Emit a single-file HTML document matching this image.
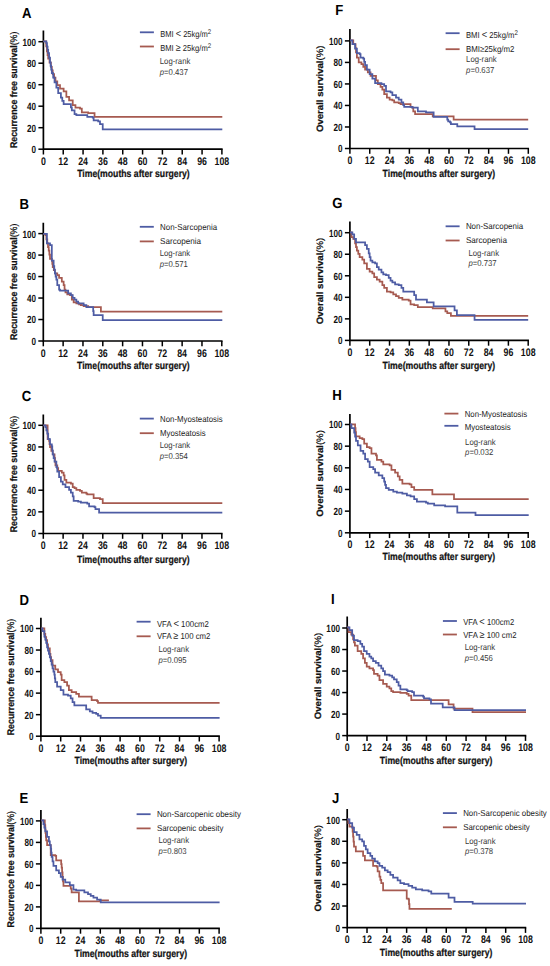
<!DOCTYPE html><html><head><meta charset="utf-8"><style>html,body{margin:0;padding:0;background:#fff;}svg{display:block;} .bt{stroke:#111;stroke-width:0.22px;}</style></head><body>
<svg width="550" height="966" viewBox="0 0 550 966" font-family="&quot;Liberation Sans&quot;, sans-serif" text-rendering="geometricPrecision">
<rect width="550" height="966" fill="#fff"/>
<path d="M43.4,30.5V149.2H222.65" fill="none" stroke="#000" stroke-width="1.7"/>
<path d="M38.4,149.2H43.4" stroke="#000" stroke-width="1.5"/>
<text transform="translate(36.1,153.1) scale(0.78,1)" text-anchor="end" font-size="10.4" font-weight="bold" fill="#111">0</text>
<path d="M38.4,127.7H43.4" stroke="#000" stroke-width="1.5"/>
<text transform="translate(36.1,131.6) scale(0.78,1)" text-anchor="end" font-size="10.4" font-weight="bold" fill="#111">20</text>
<path d="M38.4,106.2H43.4" stroke="#000" stroke-width="1.5"/>
<text transform="translate(36.1,110.1) scale(0.78,1)" text-anchor="end" font-size="10.4" font-weight="bold" fill="#111">40</text>
<path d="M38.4,84.7H43.4" stroke="#000" stroke-width="1.5"/>
<text transform="translate(36.1,88.6) scale(0.78,1)" text-anchor="end" font-size="10.4" font-weight="bold" fill="#111">60</text>
<path d="M38.4,63.2H43.4" stroke="#000" stroke-width="1.5"/>
<text transform="translate(36.1,67.1) scale(0.78,1)" text-anchor="end" font-size="10.4" font-weight="bold" fill="#111">80</text>
<path d="M38.4,41.7H43.4" stroke="#000" stroke-width="1.5"/>
<text transform="translate(36.1,45.6) scale(0.78,1)" text-anchor="end" font-size="10.4" font-weight="bold" fill="#111">100</text>
<path d="M43.4,149.2V154.5" stroke="#000" stroke-width="1.5"/>
<text transform="translate(43.4,164.85) scale(0.8,1)" text-anchor="middle" font-size="11.0" font-weight="bold" fill="#111">0</text>
<path d="M63.23,149.2V154.5" stroke="#000" stroke-width="1.5"/>
<text transform="translate(63.23,164.85) scale(0.8,1)" text-anchor="middle" font-size="11.0" font-weight="bold" fill="#111">12</text>
<path d="M83.07,149.2V154.5" stroke="#000" stroke-width="1.5"/>
<text transform="translate(83.07,164.85) scale(0.8,1)" text-anchor="middle" font-size="11.0" font-weight="bold" fill="#111">24</text>
<path d="M102.9,149.2V154.5" stroke="#000" stroke-width="1.5"/>
<text transform="translate(102.9,164.85) scale(0.8,1)" text-anchor="middle" font-size="11.0" font-weight="bold" fill="#111">36</text>
<path d="M122.73,149.2V154.5" stroke="#000" stroke-width="1.5"/>
<text transform="translate(122.73,164.85) scale(0.8,1)" text-anchor="middle" font-size="11.0" font-weight="bold" fill="#111">48</text>
<path d="M142.57,149.2V154.5" stroke="#000" stroke-width="1.5"/>
<text transform="translate(142.57,164.85) scale(0.8,1)" text-anchor="middle" font-size="11.0" font-weight="bold" fill="#111">60</text>
<path d="M162.4,149.2V154.5" stroke="#000" stroke-width="1.5"/>
<text transform="translate(162.4,164.85) scale(0.8,1)" text-anchor="middle" font-size="11.0" font-weight="bold" fill="#111">72</text>
<path d="M182.23,149.2V154.5" stroke="#000" stroke-width="1.5"/>
<text transform="translate(182.23,164.85) scale(0.8,1)" text-anchor="middle" font-size="11.0" font-weight="bold" fill="#111">84</text>
<path d="M202.07,149.2V154.5" stroke="#000" stroke-width="1.5"/>
<text transform="translate(202.07,164.85) scale(0.8,1)" text-anchor="middle" font-size="11.0" font-weight="bold" fill="#111">96</text>
<path d="M221.9,149.2V154.5" stroke="#000" stroke-width="1.5"/>
<text transform="translate(221.9,164.85) scale(0.8,1)" text-anchor="middle" font-size="11.0" font-weight="bold" fill="#111">108</text>
<text x="133.45" y="176.6" text-anchor="middle" font-size="10.4" font-weight="bold" fill="#111" class="bt" textLength="112.6" lengthAdjust="spacingAndGlyphs">Time(mouths after surgery)</text>
<text transform="translate(16.6,89.85) rotate(-90)" x="0" y="0" text-anchor="middle" font-size="9.7" font-weight="bold" fill="#111" class="bt" textLength="116.5" lengthAdjust="spacingAndGlyphs">Recurrence free survival<tspan font-weight="normal">(%)</tspan></text>
<text transform="translate(22,17.6) scale(0.9,1)" font-size="14.6" font-weight="bold" fill="#000">A</text>
<path d="M139.9,32.3H153.9" stroke="#4e5ca4" stroke-width="1.8"/>
<text class="lg0" x="160.2" y="36.9" font-size="8.6" fill="#1c1c1c" textLength="51" lengthAdjust="spacingAndGlyphs">BMI <tspan font-size="10.5">&lt;</tspan> 25kg/m<tspan font-size="6.9" dy="-2.9">2</tspan></text>
<path d="M139.9,46.5H153.9" stroke="#a65a50" stroke-width="1.8"/>
<text class="lg1" x="160.2" y="50.8" font-size="8.6" fill="#1c1c1c" textLength="51" lengthAdjust="spacingAndGlyphs">BMI <tspan font-size="10">&#8805;</tspan> 25kg/m<tspan font-size="6.9" dy="-2.9">2</tspan></text>
<text class="lr" transform="translate(159.8,64.2) scale(0.9,1)" font-size="8.6" fill="#383838">Log-rank</text>
<text class="pv" transform="translate(159.8,75.1) scale(0.9,1)" font-size="8.6" fill="#383838"><tspan font-style="italic">p</tspan>=0.437</text>
<path d="M43.27,41.36H45.45H46.18V46.36H46.91V51.36H47.55V55H48.18V58.64H49.55V62.73H50.91V66.82H51.82V70.45H52.73V74.09H54.09V77.73H55.45V81.36H57.27V85H60V88.64H63.64V91.36H66.36V96.82H69.09V100.45H72.73V105H75.45V107.73H80V108.64H81.82V112.27H88.18V113.18H94.55V115V116.82H140H222.3" fill="none" stroke="#a65a50" stroke-width="1.75" stroke-linejoin="miter" stroke-linecap="butt"/>
<path d="M43.27,41.36H46.36V43.18H46.97V46.52H47.58V49.85H48.18V53.18H49.09V57.73H50V62.27H50.61V65.91H51.21V69.55H51.82V73.18H53.18V77.73H54.55V82.27H56.36V87.73H58.18V93.18H60.91V97.73H62.27V100.91H63.64V104.09H70H70.91V107.27H71.82V110.45H74.55V114.09H76.36V115H86.36H87.27V116.82H92.73V117.73H93.64V120.45H98.18V121.36H100V124.09H102.73V129.36H140H222.3" fill="none" stroke="#4e5ca4" stroke-width="1.75" stroke-linejoin="miter" stroke-linecap="butt"/>
<path d="M43.3,222.7V341H222.55" fill="none" stroke="#000" stroke-width="1.7"/>
<path d="M38.3,341H43.3" stroke="#000" stroke-width="1.5"/>
<text transform="translate(36,344.9) scale(0.78,1)" text-anchor="end" font-size="10.4" font-weight="bold" fill="#111">0</text>
<path d="M38.3,319.52H43.3" stroke="#000" stroke-width="1.5"/>
<text transform="translate(36,323.42) scale(0.78,1)" text-anchor="end" font-size="10.4" font-weight="bold" fill="#111">20</text>
<path d="M38.3,298.04H43.3" stroke="#000" stroke-width="1.5"/>
<text transform="translate(36,301.94) scale(0.78,1)" text-anchor="end" font-size="10.4" font-weight="bold" fill="#111">40</text>
<path d="M38.3,276.56H43.3" stroke="#000" stroke-width="1.5"/>
<text transform="translate(36,280.46) scale(0.78,1)" text-anchor="end" font-size="10.4" font-weight="bold" fill="#111">60</text>
<path d="M38.3,255.08H43.3" stroke="#000" stroke-width="1.5"/>
<text transform="translate(36,258.98) scale(0.78,1)" text-anchor="end" font-size="10.4" font-weight="bold" fill="#111">80</text>
<path d="M38.3,233.6H43.3" stroke="#000" stroke-width="1.5"/>
<text transform="translate(36,237.5) scale(0.78,1)" text-anchor="end" font-size="10.4" font-weight="bold" fill="#111">100</text>
<path d="M43.3,341V346.3" stroke="#000" stroke-width="1.5"/>
<text transform="translate(43.3,356.65) scale(0.8,1)" text-anchor="middle" font-size="11.0" font-weight="bold" fill="#111">0</text>
<path d="M63.13,341V346.3" stroke="#000" stroke-width="1.5"/>
<text transform="translate(63.13,356.65) scale(0.8,1)" text-anchor="middle" font-size="11.0" font-weight="bold" fill="#111">12</text>
<path d="M82.97,341V346.3" stroke="#000" stroke-width="1.5"/>
<text transform="translate(82.97,356.65) scale(0.8,1)" text-anchor="middle" font-size="11.0" font-weight="bold" fill="#111">24</text>
<path d="M102.8,341V346.3" stroke="#000" stroke-width="1.5"/>
<text transform="translate(102.8,356.65) scale(0.8,1)" text-anchor="middle" font-size="11.0" font-weight="bold" fill="#111">36</text>
<path d="M122.63,341V346.3" stroke="#000" stroke-width="1.5"/>
<text transform="translate(122.63,356.65) scale(0.8,1)" text-anchor="middle" font-size="11.0" font-weight="bold" fill="#111">48</text>
<path d="M142.47,341V346.3" stroke="#000" stroke-width="1.5"/>
<text transform="translate(142.47,356.65) scale(0.8,1)" text-anchor="middle" font-size="11.0" font-weight="bold" fill="#111">60</text>
<path d="M162.3,341V346.3" stroke="#000" stroke-width="1.5"/>
<text transform="translate(162.3,356.65) scale(0.8,1)" text-anchor="middle" font-size="11.0" font-weight="bold" fill="#111">72</text>
<path d="M182.13,341V346.3" stroke="#000" stroke-width="1.5"/>
<text transform="translate(182.13,356.65) scale(0.8,1)" text-anchor="middle" font-size="11.0" font-weight="bold" fill="#111">84</text>
<path d="M201.97,341V346.3" stroke="#000" stroke-width="1.5"/>
<text transform="translate(201.97,356.65) scale(0.8,1)" text-anchor="middle" font-size="11.0" font-weight="bold" fill="#111">96</text>
<path d="M221.8,341V346.3" stroke="#000" stroke-width="1.5"/>
<text transform="translate(221.8,356.65) scale(0.8,1)" text-anchor="middle" font-size="11.0" font-weight="bold" fill="#111">108</text>
<text x="133.35" y="369.4" text-anchor="middle" font-size="10.4" font-weight="bold" fill="#111" class="bt" textLength="112.6" lengthAdjust="spacingAndGlyphs">Time(mouths after surgery)</text>
<text transform="translate(16.5,281.85) rotate(-90)" x="0" y="0" text-anchor="middle" font-size="9.7" font-weight="bold" fill="#111" class="bt" textLength="116.5" lengthAdjust="spacingAndGlyphs">Recurrence free survival<tspan font-weight="normal">(%)</tspan></text>
<text transform="translate(19.6,209) scale(0.9,1)" font-size="14.6" font-weight="bold" fill="#000">B</text>
<path d="M139.8,226.8H153.8" stroke="#4e5ca4" stroke-width="1.8"/>
<text class="lg0" x="160.1" y="229.7" font-size="8.6" fill="#1c1c1c" textLength="57" lengthAdjust="spacingAndGlyphs">Non-Sarcopenia</text>
<path d="M139.8,241.4H153.8" stroke="#a65a50" stroke-width="1.8"/>
<text class="lg1" x="160.1" y="244.2" font-size="8.6" fill="#1c1c1c" textLength="41" lengthAdjust="spacingAndGlyphs">Sarcopenia</text>
<text class="lr" transform="translate(159.7,256.2) scale(0.9,1)" font-size="8.6" fill="#383838">Log-rank</text>
<text class="pv" transform="translate(159.7,266.6) scale(0.9,1)" font-size="8.6" fill="#383838"><tspan font-style="italic">p</tspan>=0.571</text>
<path d="M43.27,233.91H45.45V235.18H46.36V239.27H47.27V243.36H48V247H48.73V250.64H49.36V254.73H50V258.82H51.82V260.64H52.27V263.82H52.73V267H53.82V270.18H54.91V273.36H57.27V275.18H59.09V277.91H61.82V281.55H63.64V285.18H64.55V289.73H65.45V292.45H67.27V294.27H70V295.18H71.82V299.73H73.64V302.45H76.36V303.36H79.09V304.27H80.91V305.18H83.64V306.09H88.18V307H99.09H100.91V311.55H140H222.3" fill="none" stroke="#a65a50" stroke-width="1.75" stroke-linejoin="miter" stroke-linecap="butt"/>
<path d="M43.27,233.91H46.91V243.36H49.09H50V245.18H51.82V246.09V260.64H53.64V266.09H54.27V269.73H54.91V273.36H55.64V276.55H56.36V279.73H57.27V285.18H59.09V289.73H60V290.64H67.27H68.18V293.36H70.91V295.18H72.73V297.91H74.55V299.73H76.36V301.55H78.18V303.36H83.64V305.18H86.36V307H92.73H93.18V311.09H93.64V315.18H102.73V316.09V320.09H140H222.3" fill="none" stroke="#4e5ca4" stroke-width="1.75" stroke-linejoin="miter" stroke-linecap="butt"/>
<path d="M43.3,414.5V533.5H222.55" fill="none" stroke="#000" stroke-width="1.7"/>
<path d="M38.3,533.5H43.3" stroke="#000" stroke-width="1.5"/>
<text transform="translate(36,537.4) scale(0.78,1)" text-anchor="end" font-size="10.4" font-weight="bold" fill="#111">0</text>
<path d="M38.3,511.86H43.3" stroke="#000" stroke-width="1.5"/>
<text transform="translate(36,515.76) scale(0.78,1)" text-anchor="end" font-size="10.4" font-weight="bold" fill="#111">20</text>
<path d="M38.3,490.22H43.3" stroke="#000" stroke-width="1.5"/>
<text transform="translate(36,494.12) scale(0.78,1)" text-anchor="end" font-size="10.4" font-weight="bold" fill="#111">40</text>
<path d="M38.3,468.58H43.3" stroke="#000" stroke-width="1.5"/>
<text transform="translate(36,472.48) scale(0.78,1)" text-anchor="end" font-size="10.4" font-weight="bold" fill="#111">60</text>
<path d="M38.3,446.94H43.3" stroke="#000" stroke-width="1.5"/>
<text transform="translate(36,450.84) scale(0.78,1)" text-anchor="end" font-size="10.4" font-weight="bold" fill="#111">80</text>
<path d="M38.3,425.3H43.3" stroke="#000" stroke-width="1.5"/>
<text transform="translate(36,429.2) scale(0.78,1)" text-anchor="end" font-size="10.4" font-weight="bold" fill="#111">100</text>
<path d="M43.3,533.5V538.8" stroke="#000" stroke-width="1.5"/>
<text transform="translate(43.3,549.15) scale(0.8,1)" text-anchor="middle" font-size="11.0" font-weight="bold" fill="#111">0</text>
<path d="M63.13,533.5V538.8" stroke="#000" stroke-width="1.5"/>
<text transform="translate(63.13,549.15) scale(0.8,1)" text-anchor="middle" font-size="11.0" font-weight="bold" fill="#111">12</text>
<path d="M82.97,533.5V538.8" stroke="#000" stroke-width="1.5"/>
<text transform="translate(82.97,549.15) scale(0.8,1)" text-anchor="middle" font-size="11.0" font-weight="bold" fill="#111">24</text>
<path d="M102.8,533.5V538.8" stroke="#000" stroke-width="1.5"/>
<text transform="translate(102.8,549.15) scale(0.8,1)" text-anchor="middle" font-size="11.0" font-weight="bold" fill="#111">36</text>
<path d="M122.63,533.5V538.8" stroke="#000" stroke-width="1.5"/>
<text transform="translate(122.63,549.15) scale(0.8,1)" text-anchor="middle" font-size="11.0" font-weight="bold" fill="#111">48</text>
<path d="M142.47,533.5V538.8" stroke="#000" stroke-width="1.5"/>
<text transform="translate(142.47,549.15) scale(0.8,1)" text-anchor="middle" font-size="11.0" font-weight="bold" fill="#111">60</text>
<path d="M162.3,533.5V538.8" stroke="#000" stroke-width="1.5"/>
<text transform="translate(162.3,549.15) scale(0.8,1)" text-anchor="middle" font-size="11.0" font-weight="bold" fill="#111">72</text>
<path d="M182.13,533.5V538.8" stroke="#000" stroke-width="1.5"/>
<text transform="translate(182.13,549.15) scale(0.8,1)" text-anchor="middle" font-size="11.0" font-weight="bold" fill="#111">84</text>
<path d="M201.97,533.5V538.8" stroke="#000" stroke-width="1.5"/>
<text transform="translate(201.97,549.15) scale(0.8,1)" text-anchor="middle" font-size="11.0" font-weight="bold" fill="#111">96</text>
<path d="M221.8,533.5V538.8" stroke="#000" stroke-width="1.5"/>
<text transform="translate(221.8,549.15) scale(0.8,1)" text-anchor="middle" font-size="11.0" font-weight="bold" fill="#111">108</text>
<text x="133.35" y="562.5" text-anchor="middle" font-size="10.4" font-weight="bold" fill="#111" class="bt" textLength="112.6" lengthAdjust="spacingAndGlyphs">Time(mouths after surgery)</text>
<text transform="translate(16.5,474) rotate(-90)" x="0" y="0" text-anchor="middle" font-size="9.7" font-weight="bold" fill="#111" class="bt" textLength="116.5" lengthAdjust="spacingAndGlyphs">Recurrence free survival<tspan font-weight="normal">(%)</tspan></text>
<text transform="translate(21.8,400.9) scale(0.9,1)" font-size="14.6" font-weight="bold" fill="#000">C</text>
<path d="M139.8,418.6H153.8" stroke="#4e5ca4" stroke-width="1.8"/>
<text class="lg0" x="160.1" y="421.7" font-size="8.6" fill="#1c1c1c" textLength="62.5" lengthAdjust="spacingAndGlyphs">Non-Myosteatosis</text>
<path d="M139.8,433.2H153.8" stroke="#a65a50" stroke-width="1.8"/>
<text class="lg1" x="160.1" y="436.2" font-size="8.6" fill="#1c1c1c" textLength="45.5" lengthAdjust="spacingAndGlyphs">Myosteatosis</text>
<text class="lr" transform="translate(159.7,447.9) scale(0.9,1)" font-size="8.6" fill="#383838">Log-rank</text>
<text class="pv" transform="translate(159.7,458.6) scale(0.9,1)" font-size="8.6" fill="#383838"><tspan font-style="italic">p</tspan>=0.354</text>
<path d="M43.27,425.36H46.36H47.64V430.82V439H49.09V440.82H49.55V444H50V447.18H51.36V450.82H52.73V454.45H54.55V458.09H55V461.73H55.45V465.36H57.27V468.09H58.18V470.82H61.82V472.64H63.64V475.36H64.55V479.91H66.36V482.64H70.91V483.55H72.73V487.18H74.55V488.09H76.36V489.91H80V490.82H81.82V492.64H86.36V493.55H87.27V494.45H92.73H93.64V498.09H100V499H102.73V503.18H140H222.3" fill="none" stroke="#a65a50" stroke-width="1.75" stroke-linejoin="miter" stroke-linecap="butt"/>
<path d="M43.27,425.36H45.45V427.18H46.36V430.36H47.27V433.55H48.18V439H50V444.45H51.82V446.27H52.27V450.36H52.73V454.45H53.64V458.09H54.55V461.73H56.36V467.18H57.27V471.73H59.09V477.18H60.91V481.73H62.73V484.45H65.45V487.18H69.09V489.91H70.91V492.64H72.73V496.27H73.64V500.82H78.18V501.73H80.91V502.64H87.27V503.55H89.09V506.27H94.55V507.18H95.45V509H99.09V512.64H140H222.3" fill="none" stroke="#4e5ca4" stroke-width="1.75" stroke-linejoin="miter" stroke-linecap="butt"/>
<path d="M40.9,617.8V736.2H219.85" fill="none" stroke="#000" stroke-width="1.7"/>
<path d="M35.9,736.2H40.9" stroke="#000" stroke-width="1.5"/>
<text transform="translate(33.6,740.1) scale(0.78,1)" text-anchor="end" font-size="10.4" font-weight="bold" fill="#111">0</text>
<path d="M35.9,714.66H40.9" stroke="#000" stroke-width="1.5"/>
<text transform="translate(33.6,718.56) scale(0.78,1)" text-anchor="end" font-size="10.4" font-weight="bold" fill="#111">20</text>
<path d="M35.9,693.12H40.9" stroke="#000" stroke-width="1.5"/>
<text transform="translate(33.6,697.02) scale(0.78,1)" text-anchor="end" font-size="10.4" font-weight="bold" fill="#111">40</text>
<path d="M35.9,671.58H40.9" stroke="#000" stroke-width="1.5"/>
<text transform="translate(33.6,675.48) scale(0.78,1)" text-anchor="end" font-size="10.4" font-weight="bold" fill="#111">60</text>
<path d="M35.9,650.04H40.9" stroke="#000" stroke-width="1.5"/>
<text transform="translate(33.6,653.94) scale(0.78,1)" text-anchor="end" font-size="10.4" font-weight="bold" fill="#111">80</text>
<path d="M35.9,628.5H40.9" stroke="#000" stroke-width="1.5"/>
<text transform="translate(33.6,632.4) scale(0.78,1)" text-anchor="end" font-size="10.4" font-weight="bold" fill="#111">100</text>
<path d="M40.9,736.2V741.5" stroke="#000" stroke-width="1.5"/>
<text transform="translate(40.9,751.85) scale(0.8,1)" text-anchor="middle" font-size="11.0" font-weight="bold" fill="#111">0</text>
<path d="M60.7,736.2V741.5" stroke="#000" stroke-width="1.5"/>
<text transform="translate(60.7,751.85) scale(0.8,1)" text-anchor="middle" font-size="11.0" font-weight="bold" fill="#111">12</text>
<path d="M80.5,736.2V741.5" stroke="#000" stroke-width="1.5"/>
<text transform="translate(80.5,751.85) scale(0.8,1)" text-anchor="middle" font-size="11.0" font-weight="bold" fill="#111">24</text>
<path d="M100.3,736.2V741.5" stroke="#000" stroke-width="1.5"/>
<text transform="translate(100.3,751.85) scale(0.8,1)" text-anchor="middle" font-size="11.0" font-weight="bold" fill="#111">36</text>
<path d="M120.1,736.2V741.5" stroke="#000" stroke-width="1.5"/>
<text transform="translate(120.1,751.85) scale(0.8,1)" text-anchor="middle" font-size="11.0" font-weight="bold" fill="#111">48</text>
<path d="M139.9,736.2V741.5" stroke="#000" stroke-width="1.5"/>
<text transform="translate(139.9,751.85) scale(0.8,1)" text-anchor="middle" font-size="11.0" font-weight="bold" fill="#111">60</text>
<path d="M159.7,736.2V741.5" stroke="#000" stroke-width="1.5"/>
<text transform="translate(159.7,751.85) scale(0.8,1)" text-anchor="middle" font-size="11.0" font-weight="bold" fill="#111">72</text>
<path d="M179.5,736.2V741.5" stroke="#000" stroke-width="1.5"/>
<text transform="translate(179.5,751.85) scale(0.8,1)" text-anchor="middle" font-size="11.0" font-weight="bold" fill="#111">84</text>
<path d="M199.3,736.2V741.5" stroke="#000" stroke-width="1.5"/>
<text transform="translate(199.3,751.85) scale(0.8,1)" text-anchor="middle" font-size="11.0" font-weight="bold" fill="#111">96</text>
<path d="M219.1,736.2V741.5" stroke="#000" stroke-width="1.5"/>
<text transform="translate(219.1,751.85) scale(0.8,1)" text-anchor="middle" font-size="11.0" font-weight="bold" fill="#111">108</text>
<text x="130.8" y="764.2" text-anchor="middle" font-size="10.4" font-weight="bold" fill="#111" class="bt" textLength="112.6" lengthAdjust="spacingAndGlyphs">Time(mouths after surgery)</text>
<text transform="translate(14.1,677) rotate(-90)" x="0" y="0" text-anchor="middle" font-size="9.7" font-weight="bold" fill="#111" class="bt" textLength="116.5" lengthAdjust="spacingAndGlyphs">Recurrence free survival<tspan font-weight="normal">(%)</tspan></text>
<text transform="translate(19.6,604.5) scale(0.9,1)" font-size="14.6" font-weight="bold" fill="#000">D</text>
<path d="M136.6,621.7H150.6" stroke="#4e5ca4" stroke-width="1.8"/>
<text class="lg0" x="156.9" y="626.8" font-size="8.6" fill="#1c1c1c" textLength="52" lengthAdjust="spacingAndGlyphs">VFA <tspan font-size="10.5">&lt;</tspan> 100cm2</text>
<path d="M136.6,636.3H150.6" stroke="#a65a50" stroke-width="1.8"/>
<text class="lg1" x="156.9" y="639.1" font-size="8.6" fill="#1c1c1c" textLength="53.5" lengthAdjust="spacingAndGlyphs">VFA <tspan font-size="10">&#8805;</tspan> 100 cm2</text>
<text class="lr" transform="translate(158.5,652.2) scale(0.9,1)" font-size="8.6" fill="#383838">Log-rank</text>
<text class="pv" transform="translate(158.5,663.1) scale(0.9,1)" font-size="8.6" fill="#383838"><tspan font-style="italic">p</tspan>=0.095</text>
<path d="M41.27,628.36H44.36V633.82H45.27V637H46.18V640.18H47.09V644.27H48V648.36H49.82V653.82H50.45V657H51.09V660.18H52.55V665.64H55.27V669.27H58V672H60.73V674.73H61.64V680.18H64.36V682H67.09V685.64H68.91V690.18H71.64V692H76.18V693.82H78.91V696.55H89.82H91.64V700.18H97.09V701.09H98V702.91H138H219.6" fill="none" stroke="#a65a50" stroke-width="1.75" stroke-linejoin="miter" stroke-linecap="butt"/>
<path d="M41.27,628.36H42.55V631.09H44.36V636.55H45.27V639.73H46.18V642.91H47.09V647.45H48V650.64H48.91V653.82H49.82V657.45H50.73V661.09H51.64V664.73H52.55V668.36H53.45V671.55H54.36V674.73H54.82V678.36H55.27V682H57.09V686.55H60.73V690.18H63.45V694.73H68V695.64H70.73V698.36H72.55V702H74.36V705.27H83.45H86.18V709.27H89.82V711.45H92.55V712.91H96.18V713.82H98V715.64H100.73V717.82H138H219.6" fill="none" stroke="#4e5ca4" stroke-width="1.75" stroke-linejoin="miter" stroke-linecap="butt"/>
<path d="M40.9,810V928.4H219.85" fill="none" stroke="#000" stroke-width="1.7"/>
<path d="M35.9,928.4H40.9" stroke="#000" stroke-width="1.5"/>
<text transform="translate(33.6,932.3) scale(0.78,1)" text-anchor="end" font-size="10.4" font-weight="bold" fill="#111">0</text>
<path d="M35.9,906.9H40.9" stroke="#000" stroke-width="1.5"/>
<text transform="translate(33.6,910.8) scale(0.78,1)" text-anchor="end" font-size="10.4" font-weight="bold" fill="#111">20</text>
<path d="M35.9,885.4H40.9" stroke="#000" stroke-width="1.5"/>
<text transform="translate(33.6,889.3) scale(0.78,1)" text-anchor="end" font-size="10.4" font-weight="bold" fill="#111">40</text>
<path d="M35.9,863.9H40.9" stroke="#000" stroke-width="1.5"/>
<text transform="translate(33.6,867.8) scale(0.78,1)" text-anchor="end" font-size="10.4" font-weight="bold" fill="#111">60</text>
<path d="M35.9,842.4H40.9" stroke="#000" stroke-width="1.5"/>
<text transform="translate(33.6,846.3) scale(0.78,1)" text-anchor="end" font-size="10.4" font-weight="bold" fill="#111">80</text>
<path d="M35.9,820.9H40.9" stroke="#000" stroke-width="1.5"/>
<text transform="translate(33.6,824.8) scale(0.78,1)" text-anchor="end" font-size="10.4" font-weight="bold" fill="#111">100</text>
<path d="M40.9,928.4V933.7" stroke="#000" stroke-width="1.5"/>
<text transform="translate(40.9,944.05) scale(0.8,1)" text-anchor="middle" font-size="11.0" font-weight="bold" fill="#111">0</text>
<path d="M60.7,928.4V933.7" stroke="#000" stroke-width="1.5"/>
<text transform="translate(60.7,944.05) scale(0.8,1)" text-anchor="middle" font-size="11.0" font-weight="bold" fill="#111">12</text>
<path d="M80.5,928.4V933.7" stroke="#000" stroke-width="1.5"/>
<text transform="translate(80.5,944.05) scale(0.8,1)" text-anchor="middle" font-size="11.0" font-weight="bold" fill="#111">24</text>
<path d="M100.3,928.4V933.7" stroke="#000" stroke-width="1.5"/>
<text transform="translate(100.3,944.05) scale(0.8,1)" text-anchor="middle" font-size="11.0" font-weight="bold" fill="#111">36</text>
<path d="M120.1,928.4V933.7" stroke="#000" stroke-width="1.5"/>
<text transform="translate(120.1,944.05) scale(0.8,1)" text-anchor="middle" font-size="11.0" font-weight="bold" fill="#111">48</text>
<path d="M139.9,928.4V933.7" stroke="#000" stroke-width="1.5"/>
<text transform="translate(139.9,944.05) scale(0.8,1)" text-anchor="middle" font-size="11.0" font-weight="bold" fill="#111">60</text>
<path d="M159.7,928.4V933.7" stroke="#000" stroke-width="1.5"/>
<text transform="translate(159.7,944.05) scale(0.8,1)" text-anchor="middle" font-size="11.0" font-weight="bold" fill="#111">72</text>
<path d="M179.5,928.4V933.7" stroke="#000" stroke-width="1.5"/>
<text transform="translate(179.5,944.05) scale(0.8,1)" text-anchor="middle" font-size="11.0" font-weight="bold" fill="#111">84</text>
<path d="M199.3,928.4V933.7" stroke="#000" stroke-width="1.5"/>
<text transform="translate(199.3,944.05) scale(0.8,1)" text-anchor="middle" font-size="11.0" font-weight="bold" fill="#111">96</text>
<path d="M219.1,928.4V933.7" stroke="#000" stroke-width="1.5"/>
<text transform="translate(219.1,944.05) scale(0.8,1)" text-anchor="middle" font-size="11.0" font-weight="bold" fill="#111">108</text>
<text x="130.8" y="957.3" text-anchor="middle" font-size="10.4" font-weight="bold" fill="#111" class="bt" textLength="112.6" lengthAdjust="spacingAndGlyphs">Time(mouths after surgery)</text>
<text transform="translate(14.1,869.2) rotate(-90)" x="0" y="0" text-anchor="middle" font-size="9.7" font-weight="bold" fill="#111" class="bt" textLength="116.5" lengthAdjust="spacingAndGlyphs">Recurrence free survival<tspan font-weight="normal">(%)</tspan></text>
<text transform="translate(19.6,802.7) scale(0.9,1)" font-size="14.6" font-weight="bold" fill="#000">E</text>
<path d="M136.6,814.2H150.6" stroke="#4e5ca4" stroke-width="1.8"/>
<text class="lg0" x="156.9" y="816.7" font-size="8.6" fill="#1c1c1c" textLength="84" lengthAdjust="spacingAndGlyphs">Non-Sarcopenic obesity</text>
<path d="M136.6,828.4H150.6" stroke="#a65a50" stroke-width="1.8"/>
<text class="lg1" x="156.9" y="831.2" font-size="8.6" fill="#1c1c1c" textLength="66.5" lengthAdjust="spacingAndGlyphs">Sarcopenic obesity</text>
<text class="lr" transform="translate(158.5,842.9) scale(0.9,1)" font-size="8.6" fill="#383838">Log-rank</text>
<text class="pv" transform="translate(158.5,854.4) scale(0.9,1)" font-size="8.6" fill="#383838"><tspan font-style="italic">p</tspan>=0.803</text>
<path d="M41.27,820.45H44.36H44.82V825H45.27V829.55H45.58V833.18H45.88V836.82H46.18V840.45H47.09V845H49.82H50.73V850.45V855H55.27V855.91H56.18V860.45H60.73H61.18V864.09H61.64V867.73H62.09V872.27H62.55V876.82H63V881.36H63.45V885.91H68H70.73V888.64H71.64V892.27H78.91V901.36H98H99.82V900.45H108.91" fill="none" stroke="#a65a50" stroke-width="1.75" stroke-linejoin="miter" stroke-linecap="butt"/>
<path d="M41.27,820.45H43.45V824.09H44.36V827.73H45.27V831.36H47.09V836.82H48.91V841.36H49.82V845H50.73V848.64H51.18V852.73H51.64V856.82H52.55V861.36H53.45V865.91H56.18V870.45H58.91V873.18H60.73V876.82H62.55V879.55H65.27V882.27H69.82V885H73.45V889.55H76.18V890.45H82.55H84.36V892.27H88V894.09H90.73V895.91H93.45V897.73H97.09V899.55H100.73V902.27H138H219.6" fill="none" stroke="#4e5ca4" stroke-width="1.75" stroke-linejoin="miter" stroke-linecap="butt"/>
<path d="M349.9,29.1V148.5H529.05" fill="none" stroke="#000" stroke-width="1.7"/>
<path d="M344.9,148.5H349.9" stroke="#000" stroke-width="1.5"/>
<text transform="translate(342.6,152.4) scale(0.78,1)" text-anchor="end" font-size="10.4" font-weight="bold" fill="#111">0</text>
<path d="M344.9,126.98H349.9" stroke="#000" stroke-width="1.5"/>
<text transform="translate(342.6,130.88) scale(0.78,1)" text-anchor="end" font-size="10.4" font-weight="bold" fill="#111">20</text>
<path d="M344.9,105.46H349.9" stroke="#000" stroke-width="1.5"/>
<text transform="translate(342.6,109.36) scale(0.78,1)" text-anchor="end" font-size="10.4" font-weight="bold" fill="#111">40</text>
<path d="M344.9,83.94H349.9" stroke="#000" stroke-width="1.5"/>
<text transform="translate(342.6,87.84) scale(0.78,1)" text-anchor="end" font-size="10.4" font-weight="bold" fill="#111">60</text>
<path d="M344.9,62.42H349.9" stroke="#000" stroke-width="1.5"/>
<text transform="translate(342.6,66.32) scale(0.78,1)" text-anchor="end" font-size="10.4" font-weight="bold" fill="#111">80</text>
<path d="M344.9,40.9H349.9" stroke="#000" stroke-width="1.5"/>
<text transform="translate(342.6,44.8) scale(0.78,1)" text-anchor="end" font-size="10.4" font-weight="bold" fill="#111">100</text>
<path d="M349.9,148.5V153.8" stroke="#000" stroke-width="1.5"/>
<text transform="translate(349.9,164.15) scale(0.8,1)" text-anchor="middle" font-size="11.0" font-weight="bold" fill="#111">0</text>
<path d="M369.72,148.5V153.8" stroke="#000" stroke-width="1.5"/>
<text transform="translate(369.72,164.15) scale(0.8,1)" text-anchor="middle" font-size="11.0" font-weight="bold" fill="#111">12</text>
<path d="M389.54,148.5V153.8" stroke="#000" stroke-width="1.5"/>
<text transform="translate(389.54,164.15) scale(0.8,1)" text-anchor="middle" font-size="11.0" font-weight="bold" fill="#111">24</text>
<path d="M409.37,148.5V153.8" stroke="#000" stroke-width="1.5"/>
<text transform="translate(409.37,164.15) scale(0.8,1)" text-anchor="middle" font-size="11.0" font-weight="bold" fill="#111">36</text>
<path d="M429.19,148.5V153.8" stroke="#000" stroke-width="1.5"/>
<text transform="translate(429.19,164.15) scale(0.8,1)" text-anchor="middle" font-size="11.0" font-weight="bold" fill="#111">48</text>
<path d="M449.01,148.5V153.8" stroke="#000" stroke-width="1.5"/>
<text transform="translate(449.01,164.15) scale(0.8,1)" text-anchor="middle" font-size="11.0" font-weight="bold" fill="#111">60</text>
<path d="M468.83,148.5V153.8" stroke="#000" stroke-width="1.5"/>
<text transform="translate(468.83,164.15) scale(0.8,1)" text-anchor="middle" font-size="11.0" font-weight="bold" fill="#111">72</text>
<path d="M488.66,148.5V153.8" stroke="#000" stroke-width="1.5"/>
<text transform="translate(488.66,164.15) scale(0.8,1)" text-anchor="middle" font-size="11.0" font-weight="bold" fill="#111">84</text>
<path d="M508.48,148.5V153.8" stroke="#000" stroke-width="1.5"/>
<text transform="translate(508.48,164.15) scale(0.8,1)" text-anchor="middle" font-size="11.0" font-weight="bold" fill="#111">96</text>
<path d="M528.3,148.5V153.8" stroke="#000" stroke-width="1.5"/>
<text transform="translate(528.3,164.15) scale(0.8,1)" text-anchor="middle" font-size="11.0" font-weight="bold" fill="#111">108</text>
<text x="438.9" y="176.7" text-anchor="middle" font-size="10.4" font-weight="bold" fill="#111" class="bt" textLength="112.6" lengthAdjust="spacingAndGlyphs">Time(mouths after surgery)</text>
<text transform="translate(323.3,88.8) rotate(-90)" x="0" y="0" text-anchor="middle" font-size="9.2" font-weight="bold" fill="#111" class="bt" textLength="86.5" lengthAdjust="spacingAndGlyphs">Overall survival<tspan font-weight="normal">(%)</tspan></text>
<text transform="translate(335.3,14.5) scale(0.9,1)" font-size="14.6" font-weight="bold" fill="#000">F</text>
<path d="M445.6,33.2H459.6" stroke="#4e5ca4" stroke-width="1.8"/>
<text class="lg0" x="465.9" y="37.7" font-size="8.6" fill="#1c1c1c" textLength="52" lengthAdjust="spacingAndGlyphs">BMI <tspan font-size="10.5">&lt;</tspan> 25kg/m<tspan font-size="6.9" dy="-2.9">2</tspan></text>
<path d="M445.6,49.2H459.6" stroke="#a65a50" stroke-width="1.8"/>
<text class="lg1" x="465.9" y="52.2" font-size="8.6" fill="#1c1c1c" textLength="48.5" lengthAdjust="spacingAndGlyphs">BMI&#8805;25kg/m2</text>
<text class="lr" transform="translate(466.1,62) scale(0.9,1)" font-size="8.6" fill="#383838">Log-rank</text>
<text class="pv" transform="translate(466.1,72.9) scale(0.9,1)" font-size="8.6" fill="#383838"><tspan font-style="italic">p</tspan>=0.637</text>
<path d="M350,40.45H352.36H353.27V44.09H355.09H355.55V48.18H356V52.27H356.91V57.73H358.73V62.27H361.45V64.09H363.27V66.82H365.09V69.55H367.82V72.27H370.55V75.91H374.18H376V80.45H377.82V84.09H380.55V86.82H382.36V89.55H384.18V94.09H386.91V97.73H389.64V99.55H392.36V100.45H394.18V102.27H398.73V103.18H400.55V104.09H409.64H410.55V106.82H412.36V107.73H413.27V111.36H415.09V114.09H424.18H432.73V116.45H446.36H453.64V119.55H528.18" fill="none" stroke="#a65a50" stroke-width="1.75" stroke-linejoin="miter" stroke-linecap="butt"/>
<path d="M350,40.45H352.36V44.09H355.09V48.64H356.91V53.18H359.64V54.09H360.55V57.73H363.27V58.64H364.18V61.82H365.09V65H366.91V69.55H369.64V74.09H372.36V78.64H375.09V83.18H377.82H381.45V84.09H384.18V85.91H386V91.36H390.55V92.27H392.36V95H396V97.73H398.73V99.55H401.45V102.27H403.27V105H404.18V106.82H411.45H412.36V107.73H416.91H417.82V111.36H426V112.27H433.64V116.82H445.45H447.27V119.55H448.18V121.36H450V122.27H450.91V124.09H457.27V125V126.27H474.55V129H528.18" fill="none" stroke="#4e5ca4" stroke-width="1.75" stroke-linejoin="miter" stroke-linecap="butt"/>
<path d="M349.9,221.5V340.4H528.95" fill="none" stroke="#000" stroke-width="1.7"/>
<path d="M344.9,340.4H349.9" stroke="#000" stroke-width="1.5"/>
<text transform="translate(342.6,344.3) scale(0.78,1)" text-anchor="end" font-size="10.4" font-weight="bold" fill="#111">0</text>
<path d="M344.9,318.86H349.9" stroke="#000" stroke-width="1.5"/>
<text transform="translate(342.6,322.76) scale(0.78,1)" text-anchor="end" font-size="10.4" font-weight="bold" fill="#111">20</text>
<path d="M344.9,297.32H349.9" stroke="#000" stroke-width="1.5"/>
<text transform="translate(342.6,301.22) scale(0.78,1)" text-anchor="end" font-size="10.4" font-weight="bold" fill="#111">40</text>
<path d="M344.9,275.78H349.9" stroke="#000" stroke-width="1.5"/>
<text transform="translate(342.6,279.68) scale(0.78,1)" text-anchor="end" font-size="10.4" font-weight="bold" fill="#111">60</text>
<path d="M344.9,254.24H349.9" stroke="#000" stroke-width="1.5"/>
<text transform="translate(342.6,258.14) scale(0.78,1)" text-anchor="end" font-size="10.4" font-weight="bold" fill="#111">80</text>
<path d="M344.9,232.7H349.9" stroke="#000" stroke-width="1.5"/>
<text transform="translate(342.6,236.6) scale(0.78,1)" text-anchor="end" font-size="10.4" font-weight="bold" fill="#111">100</text>
<path d="M349.9,340.4V345.7" stroke="#000" stroke-width="1.5"/>
<text transform="translate(349.9,356.05) scale(0.8,1)" text-anchor="middle" font-size="11.0" font-weight="bold" fill="#111">0</text>
<path d="M369.71,340.4V345.7" stroke="#000" stroke-width="1.5"/>
<text transform="translate(369.71,356.05) scale(0.8,1)" text-anchor="middle" font-size="11.0" font-weight="bold" fill="#111">12</text>
<path d="M389.52,340.4V345.7" stroke="#000" stroke-width="1.5"/>
<text transform="translate(389.52,356.05) scale(0.8,1)" text-anchor="middle" font-size="11.0" font-weight="bold" fill="#111">24</text>
<path d="M409.33,340.4V345.7" stroke="#000" stroke-width="1.5"/>
<text transform="translate(409.33,356.05) scale(0.8,1)" text-anchor="middle" font-size="11.0" font-weight="bold" fill="#111">36</text>
<path d="M429.14,340.4V345.7" stroke="#000" stroke-width="1.5"/>
<text transform="translate(429.14,356.05) scale(0.8,1)" text-anchor="middle" font-size="11.0" font-weight="bold" fill="#111">48</text>
<path d="M448.96,340.4V345.7" stroke="#000" stroke-width="1.5"/>
<text transform="translate(448.96,356.05) scale(0.8,1)" text-anchor="middle" font-size="11.0" font-weight="bold" fill="#111">60</text>
<path d="M468.77,340.4V345.7" stroke="#000" stroke-width="1.5"/>
<text transform="translate(468.77,356.05) scale(0.8,1)" text-anchor="middle" font-size="11.0" font-weight="bold" fill="#111">72</text>
<path d="M488.58,340.4V345.7" stroke="#000" stroke-width="1.5"/>
<text transform="translate(488.58,356.05) scale(0.8,1)" text-anchor="middle" font-size="11.0" font-weight="bold" fill="#111">84</text>
<path d="M508.39,340.4V345.7" stroke="#000" stroke-width="1.5"/>
<text transform="translate(508.39,356.05) scale(0.8,1)" text-anchor="middle" font-size="11.0" font-weight="bold" fill="#111">96</text>
<path d="M528.2,340.4V345.7" stroke="#000" stroke-width="1.5"/>
<text transform="translate(528.2,356.05) scale(0.8,1)" text-anchor="middle" font-size="11.0" font-weight="bold" fill="#111">108</text>
<text x="438.85" y="368.6" text-anchor="middle" font-size="10.4" font-weight="bold" fill="#111" class="bt" textLength="112.6" lengthAdjust="spacingAndGlyphs">Time(mouths after surgery)</text>
<text transform="translate(323.3,280.95) rotate(-90)" x="0" y="0" text-anchor="middle" font-size="9.2" font-weight="bold" fill="#111" class="bt" textLength="86.5" lengthAdjust="spacingAndGlyphs">Overall survival<tspan font-weight="normal">(%)</tspan></text>
<text transform="translate(332.2,207.9) scale(0.9,1)" font-size="14.6" font-weight="bold" fill="#000">G</text>
<path d="M445.6,226.3H459.6" stroke="#4e5ca4" stroke-width="1.8"/>
<text class="lg0" x="465.9" y="229.2" font-size="8.6" fill="#1c1c1c" textLength="57.2" lengthAdjust="spacingAndGlyphs">Non-Sarcopenia</text>
<path d="M445.6,240.5H459.6" stroke="#a65a50" stroke-width="1.8"/>
<text class="lg1" x="465.9" y="243.4" font-size="8.6" fill="#1c1c1c" textLength="41" lengthAdjust="spacingAndGlyphs">Sarcopenia</text>
<text class="lr" transform="translate(468.5,255.6) scale(0.9,1)" font-size="8.6" fill="#383838">Log-rank</text>
<text class="pv" transform="translate(468.5,266.3) scale(0.9,1)" font-size="8.6" fill="#383838"><tspan font-style="italic">p</tspan>=0.737</text>
<path d="M350,232.45H351.45V237H353.27V238.82H355.09V243.36H356V247H356.91V250.64H358.27V253.82H359.64V257H362.36V259.73H364.18V263.36H366.91V268.82H369.64V271.55H372.36V273.36H374.18V277H376.91V279.73H379.64V281.55H382.36V285.18H384.18V287.91H386.91V291.55H390.55V292.45H393.27V294.27H396V296.09H398.73V297.91H402.36V299.73H408.73V300.64H410.55V304.27H414.18V305.18H417.82V307H426H432.73V308.27H444.55H445.45V311.36H447.27V313.18H450H450.91V315.91H528.18" fill="none" stroke="#a65a50" stroke-width="1.75" stroke-linejoin="miter" stroke-linecap="butt"/>
<path d="M350,232.45H352.36V234.27H354.18V238.82H356V242.45H363.27H365.09V245.18H366.91V248.82H368.73V253.36H369.64V257H370.55V260.64H372.36V262.45H375.09V263.36H376.91V267H378.73V269.73H381.45V272.45H383.27V274.27H386V275.18H388.73V277.91H390.55V280.64H392.36V282.45H395.09V284.27H398.73V285.18H401.45V287.91H403.27V291.55H411.45H414.18V295.18H416V299.73H425.09H426.91V302.45H433.64V306.45H453.64H454.55V310.45H456.91V315H474.55V319.91H528.18" fill="none" stroke="#4e5ca4" stroke-width="1.75" stroke-linejoin="miter" stroke-linecap="butt"/>
<path d="M349.9,414V532.8H528.95" fill="none" stroke="#000" stroke-width="1.7"/>
<path d="M344.9,532.8H349.9" stroke="#000" stroke-width="1.5"/>
<text transform="translate(342.6,536.7) scale(0.78,1)" text-anchor="end" font-size="10.4" font-weight="bold" fill="#111">0</text>
<path d="M344.9,511.14H349.9" stroke="#000" stroke-width="1.5"/>
<text transform="translate(342.6,515.04) scale(0.78,1)" text-anchor="end" font-size="10.4" font-weight="bold" fill="#111">20</text>
<path d="M344.9,489.48H349.9" stroke="#000" stroke-width="1.5"/>
<text transform="translate(342.6,493.38) scale(0.78,1)" text-anchor="end" font-size="10.4" font-weight="bold" fill="#111">40</text>
<path d="M344.9,467.82H349.9" stroke="#000" stroke-width="1.5"/>
<text transform="translate(342.6,471.72) scale(0.78,1)" text-anchor="end" font-size="10.4" font-weight="bold" fill="#111">60</text>
<path d="M344.9,446.16H349.9" stroke="#000" stroke-width="1.5"/>
<text transform="translate(342.6,450.06) scale(0.78,1)" text-anchor="end" font-size="10.4" font-weight="bold" fill="#111">80</text>
<path d="M344.9,424.5H349.9" stroke="#000" stroke-width="1.5"/>
<text transform="translate(342.6,428.4) scale(0.78,1)" text-anchor="end" font-size="10.4" font-weight="bold" fill="#111">100</text>
<path d="M349.9,532.8V538.1" stroke="#000" stroke-width="1.5"/>
<text transform="translate(349.9,548.45) scale(0.8,1)" text-anchor="middle" font-size="11.0" font-weight="bold" fill="#111">0</text>
<path d="M369.71,532.8V538.1" stroke="#000" stroke-width="1.5"/>
<text transform="translate(369.71,548.45) scale(0.8,1)" text-anchor="middle" font-size="11.0" font-weight="bold" fill="#111">12</text>
<path d="M389.52,532.8V538.1" stroke="#000" stroke-width="1.5"/>
<text transform="translate(389.52,548.45) scale(0.8,1)" text-anchor="middle" font-size="11.0" font-weight="bold" fill="#111">24</text>
<path d="M409.33,532.8V538.1" stroke="#000" stroke-width="1.5"/>
<text transform="translate(409.33,548.45) scale(0.8,1)" text-anchor="middle" font-size="11.0" font-weight="bold" fill="#111">36</text>
<path d="M429.14,532.8V538.1" stroke="#000" stroke-width="1.5"/>
<text transform="translate(429.14,548.45) scale(0.8,1)" text-anchor="middle" font-size="11.0" font-weight="bold" fill="#111">48</text>
<path d="M448.96,532.8V538.1" stroke="#000" stroke-width="1.5"/>
<text transform="translate(448.96,548.45) scale(0.8,1)" text-anchor="middle" font-size="11.0" font-weight="bold" fill="#111">60</text>
<path d="M468.77,532.8V538.1" stroke="#000" stroke-width="1.5"/>
<text transform="translate(468.77,548.45) scale(0.8,1)" text-anchor="middle" font-size="11.0" font-weight="bold" fill="#111">72</text>
<path d="M488.58,532.8V538.1" stroke="#000" stroke-width="1.5"/>
<text transform="translate(488.58,548.45) scale(0.8,1)" text-anchor="middle" font-size="11.0" font-weight="bold" fill="#111">84</text>
<path d="M508.39,532.8V538.1" stroke="#000" stroke-width="1.5"/>
<text transform="translate(508.39,548.45) scale(0.8,1)" text-anchor="middle" font-size="11.0" font-weight="bold" fill="#111">96</text>
<path d="M528.2,532.8V538.1" stroke="#000" stroke-width="1.5"/>
<text transform="translate(528.2,548.45) scale(0.8,1)" text-anchor="middle" font-size="11.0" font-weight="bold" fill="#111">108</text>
<text x="438.85" y="559.9" text-anchor="middle" font-size="10.4" font-weight="bold" fill="#111" class="bt" textLength="112.6" lengthAdjust="spacingAndGlyphs">Time(mouths after surgery)</text>
<text transform="translate(323.3,473.4) rotate(-90)" x="0" y="0" text-anchor="middle" font-size="9.2" font-weight="bold" fill="#111" class="bt" textLength="86.5" lengthAdjust="spacingAndGlyphs">Overall survival<tspan font-weight="normal">(%)</tspan></text>
<text transform="translate(332.2,399.9) scale(0.9,1)" font-size="14.6" font-weight="bold" fill="#000">H</text>
<path d="M444.4,413.6H458.4" stroke="#a65a50" stroke-width="1.8"/>
<text class="lg0" x="464.7" y="416.7" font-size="8.6" fill="#1c1c1c" textLength="62.4" lengthAdjust="spacingAndGlyphs">Non-Myosteatosis</text>
<path d="M444.4,425.8H458.4" stroke="#4e5ca4" stroke-width="1.8"/>
<text class="lg1" x="464.7" y="429.8" font-size="8.6" fill="#1c1c1c" textLength="46" lengthAdjust="spacingAndGlyphs">Myosteatosis</text>
<text class="lr" transform="translate(465.1,444.8) scale(0.9,1)" font-size="8.6" fill="#383838">Log-rank</text>
<text class="pv" transform="translate(465.1,455.2) scale(0.9,1)" font-size="8.6" fill="#383838"><tspan font-style="italic">p</tspan>=0.032</text>
<path d="M350,424.45H353.27H355.09V428.09H355.55V432.18H356V436.27H359.64V438.09H362.36V439H364.18V443.55H366.91V447.18H369.64V448.09H371.45V453.55H376V455.36H376.91V459.91H381.45V461.73H383.27V464.45H389.64V465.36H391.45V469.91H395.09V472.64H397.82V476.27H399.64V479.91H402.36V483.55H409.64V484.45H411.45V487.18H414.18V489.91H431.45H432.36V494.45H446H454V499.1H528.7" fill="none" stroke="#a65a50" stroke-width="1.75" stroke-linejoin="miter" stroke-linecap="butt"/>
<path d="M350,424.45H351.45V428.09H354.18V432.64H355.09V436.73H356V440.82H357.82V445.36H360.55V450.82H363.27V453.55H365.09V459H367.82V461.73H369.64V467.18H373.27V469H375.09V472.64H378.73V475.36H382.36V478.09H384.18V481.73H385.09V484.91H386V488.09H388.73V489.91H393.27V491.73H396.91V492.64H402.36V493.55H406.91V495.36H410.55V496.27H414.18V499H416.91V501.73H426V502.64H427.82V503.55H434.18V505.36H445.09V506.27H457.3V509V512.7H475.5V515.1H528.7" fill="none" stroke="#4e5ca4" stroke-width="1.75" stroke-linejoin="miter" stroke-linecap="butt"/>
<path d="M347.2,616.4V735.6H526.25" fill="none" stroke="#000" stroke-width="1.7"/>
<path d="M342.2,735.6H347.2" stroke="#000" stroke-width="1.5"/>
<text transform="translate(339.9,739.5) scale(0.78,1)" text-anchor="end" font-size="10.4" font-weight="bold" fill="#111">0</text>
<path d="M342.2,714.08H347.2" stroke="#000" stroke-width="1.5"/>
<text transform="translate(339.9,717.98) scale(0.78,1)" text-anchor="end" font-size="10.4" font-weight="bold" fill="#111">20</text>
<path d="M342.2,692.56H347.2" stroke="#000" stroke-width="1.5"/>
<text transform="translate(339.9,696.46) scale(0.78,1)" text-anchor="end" font-size="10.4" font-weight="bold" fill="#111">40</text>
<path d="M342.2,671.04H347.2" stroke="#000" stroke-width="1.5"/>
<text transform="translate(339.9,674.94) scale(0.78,1)" text-anchor="end" font-size="10.4" font-weight="bold" fill="#111">60</text>
<path d="M342.2,649.52H347.2" stroke="#000" stroke-width="1.5"/>
<text transform="translate(339.9,653.42) scale(0.78,1)" text-anchor="end" font-size="10.4" font-weight="bold" fill="#111">80</text>
<path d="M342.2,628H347.2" stroke="#000" stroke-width="1.5"/>
<text transform="translate(339.9,631.9) scale(0.78,1)" text-anchor="end" font-size="10.4" font-weight="bold" fill="#111">100</text>
<path d="M347.2,735.6V740.9" stroke="#000" stroke-width="1.5"/>
<text transform="translate(347.2,751.25) scale(0.8,1)" text-anchor="middle" font-size="11.0" font-weight="bold" fill="#111">0</text>
<path d="M367.01,735.6V740.9" stroke="#000" stroke-width="1.5"/>
<text transform="translate(367.01,751.25) scale(0.8,1)" text-anchor="middle" font-size="11.0" font-weight="bold" fill="#111">12</text>
<path d="M386.82,735.6V740.9" stroke="#000" stroke-width="1.5"/>
<text transform="translate(386.82,751.25) scale(0.8,1)" text-anchor="middle" font-size="11.0" font-weight="bold" fill="#111">24</text>
<path d="M406.63,735.6V740.9" stroke="#000" stroke-width="1.5"/>
<text transform="translate(406.63,751.25) scale(0.8,1)" text-anchor="middle" font-size="11.0" font-weight="bold" fill="#111">36</text>
<path d="M426.44,735.6V740.9" stroke="#000" stroke-width="1.5"/>
<text transform="translate(426.44,751.25) scale(0.8,1)" text-anchor="middle" font-size="11.0" font-weight="bold" fill="#111">48</text>
<path d="M446.26,735.6V740.9" stroke="#000" stroke-width="1.5"/>
<text transform="translate(446.26,751.25) scale(0.8,1)" text-anchor="middle" font-size="11.0" font-weight="bold" fill="#111">60</text>
<path d="M466.07,735.6V740.9" stroke="#000" stroke-width="1.5"/>
<text transform="translate(466.07,751.25) scale(0.8,1)" text-anchor="middle" font-size="11.0" font-weight="bold" fill="#111">72</text>
<path d="M485.88,735.6V740.9" stroke="#000" stroke-width="1.5"/>
<text transform="translate(485.88,751.25) scale(0.8,1)" text-anchor="middle" font-size="11.0" font-weight="bold" fill="#111">84</text>
<path d="M505.69,735.6V740.9" stroke="#000" stroke-width="1.5"/>
<text transform="translate(505.69,751.25) scale(0.8,1)" text-anchor="middle" font-size="11.0" font-weight="bold" fill="#111">96</text>
<path d="M525.5,735.6V740.9" stroke="#000" stroke-width="1.5"/>
<text transform="translate(525.5,751.25) scale(0.8,1)" text-anchor="middle" font-size="11.0" font-weight="bold" fill="#111">108</text>
<text x="436.15" y="764.4" text-anchor="middle" font-size="10.4" font-weight="bold" fill="#111" class="bt" textLength="112.6" lengthAdjust="spacingAndGlyphs">Time(mouths after surgery)</text>
<text transform="translate(320.6,676) rotate(-90)" x="0" y="0" text-anchor="middle" font-size="9.2" font-weight="bold" fill="#111" class="bt" textLength="86.5" lengthAdjust="spacingAndGlyphs">Overall survival<tspan font-weight="normal">(%)</tspan></text>
<text transform="translate(331,604) scale(0.9,1)" font-size="14.6" font-weight="bold" fill="#000">I</text>
<path d="M442.9,621H456.9" stroke="#4e5ca4" stroke-width="1.8"/>
<text class="lg0" x="463.2" y="625.4" font-size="8.6" fill="#1c1c1c" textLength="51" lengthAdjust="spacingAndGlyphs">VFA <tspan font-size="10.5">&lt;</tspan> 100cm2</text>
<path d="M442.9,634.5H456.9" stroke="#a65a50" stroke-width="1.8"/>
<text class="lg1" x="463.2" y="637.6" font-size="8.6" fill="#1c1c1c" textLength="53.3" lengthAdjust="spacingAndGlyphs">VFA <tspan font-size="10">&#8805;</tspan> 100 cm2</text>
<text class="lr" transform="translate(464.7,649.9) scale(0.9,1)" font-size="8.6" fill="#383838">Log-rank</text>
<text class="pv" transform="translate(464.7,660.6) scale(0.9,1)" font-size="8.6" fill="#383838"><tspan font-style="italic">p</tspan>=0.456</text>
<path d="M347.27,627.45H348.55V632H351.27V634.73H353.09V639.27H354V642.45H354.91V645.64H357.64V651.09H361.27V653.82H363.09V658.36H364.91V662.91H366.73V666.55H369.45V668.36H373.09V670.18H374V673.82H377.64V675.64H379.45V680.18H383.09V683.82H386.73V686.55H389.45V688.36H391.27V691.09H393.09V692H400.36V692.91H406.73V693.82H408.55V695.64H411.27V700.18H429.45H443.6H448.6V704.44H453.6V708.7H472.5V712.2H526" fill="none" stroke="#a65a50" stroke-width="1.75" stroke-linejoin="miter" stroke-linecap="butt"/>
<path d="M347.27,627.45H349.45V630.18H352.18V635.64H354V640.18H357.64V641.09H360.36V643.82H362.18V646.55H364V651.09H366.73V653.82H369.45V656.55H371.27V658.36H373.09V661.09H375.82V662.91H378.55V665.64H381.27V668.36H383.09V671.09H384.91V674.73H389.45V675.64H392.18V677.45H394V679.27H396.73V682H398.55V685.64H400.36V689.27H406.73V690.18H407.64V691.09H412.18V692H414V695.64H423.09V696.55H424V698.36H429.45V699.27H431V703.6H442.7V707.3H449H454.5V710.2H526" fill="none" stroke="#4e5ca4" stroke-width="1.75" stroke-linejoin="miter" stroke-linecap="butt"/>
<path d="M347.2,809V927.6H526.25" fill="none" stroke="#000" stroke-width="1.7"/>
<path d="M342.2,927.6H347.2" stroke="#000" stroke-width="1.5"/>
<text transform="translate(339.9,931.5) scale(0.78,1)" text-anchor="end" font-size="10.4" font-weight="bold" fill="#111">0</text>
<path d="M342.2,906.02H347.2" stroke="#000" stroke-width="1.5"/>
<text transform="translate(339.9,909.92) scale(0.78,1)" text-anchor="end" font-size="10.4" font-weight="bold" fill="#111">20</text>
<path d="M342.2,884.44H347.2" stroke="#000" stroke-width="1.5"/>
<text transform="translate(339.9,888.34) scale(0.78,1)" text-anchor="end" font-size="10.4" font-weight="bold" fill="#111">40</text>
<path d="M342.2,862.86H347.2" stroke="#000" stroke-width="1.5"/>
<text transform="translate(339.9,866.76) scale(0.78,1)" text-anchor="end" font-size="10.4" font-weight="bold" fill="#111">60</text>
<path d="M342.2,841.28H347.2" stroke="#000" stroke-width="1.5"/>
<text transform="translate(339.9,845.18) scale(0.78,1)" text-anchor="end" font-size="10.4" font-weight="bold" fill="#111">80</text>
<path d="M342.2,819.7H347.2" stroke="#000" stroke-width="1.5"/>
<text transform="translate(339.9,823.6) scale(0.78,1)" text-anchor="end" font-size="10.4" font-weight="bold" fill="#111">100</text>
<path d="M347.2,927.6V932.9" stroke="#000" stroke-width="1.5"/>
<text transform="translate(347.2,943.25) scale(0.8,1)" text-anchor="middle" font-size="11.0" font-weight="bold" fill="#111">0</text>
<path d="M367.01,927.6V932.9" stroke="#000" stroke-width="1.5"/>
<text transform="translate(367.01,943.25) scale(0.8,1)" text-anchor="middle" font-size="11.0" font-weight="bold" fill="#111">12</text>
<path d="M386.82,927.6V932.9" stroke="#000" stroke-width="1.5"/>
<text transform="translate(386.82,943.25) scale(0.8,1)" text-anchor="middle" font-size="11.0" font-weight="bold" fill="#111">24</text>
<path d="M406.63,927.6V932.9" stroke="#000" stroke-width="1.5"/>
<text transform="translate(406.63,943.25) scale(0.8,1)" text-anchor="middle" font-size="11.0" font-weight="bold" fill="#111">36</text>
<path d="M426.44,927.6V932.9" stroke="#000" stroke-width="1.5"/>
<text transform="translate(426.44,943.25) scale(0.8,1)" text-anchor="middle" font-size="11.0" font-weight="bold" fill="#111">48</text>
<path d="M446.26,927.6V932.9" stroke="#000" stroke-width="1.5"/>
<text transform="translate(446.26,943.25) scale(0.8,1)" text-anchor="middle" font-size="11.0" font-weight="bold" fill="#111">60</text>
<path d="M466.07,927.6V932.9" stroke="#000" stroke-width="1.5"/>
<text transform="translate(466.07,943.25) scale(0.8,1)" text-anchor="middle" font-size="11.0" font-weight="bold" fill="#111">72</text>
<path d="M485.88,927.6V932.9" stroke="#000" stroke-width="1.5"/>
<text transform="translate(485.88,943.25) scale(0.8,1)" text-anchor="middle" font-size="11.0" font-weight="bold" fill="#111">84</text>
<path d="M505.69,927.6V932.9" stroke="#000" stroke-width="1.5"/>
<text transform="translate(505.69,943.25) scale(0.8,1)" text-anchor="middle" font-size="11.0" font-weight="bold" fill="#111">96</text>
<path d="M525.5,927.6V932.9" stroke="#000" stroke-width="1.5"/>
<text transform="translate(525.5,943.25) scale(0.8,1)" text-anchor="middle" font-size="11.0" font-weight="bold" fill="#111">108</text>
<text x="436.15" y="956.4" text-anchor="middle" font-size="10.4" font-weight="bold" fill="#111" class="bt" textLength="112.6" lengthAdjust="spacingAndGlyphs">Time(mouths after surgery)</text>
<text transform="translate(320.6,868.3) rotate(-90)" x="0" y="0" text-anchor="middle" font-size="9.2" font-weight="bold" fill="#111" class="bt" textLength="86.5" lengthAdjust="spacingAndGlyphs">Overall survival<tspan font-weight="normal">(%)</tspan></text>
<text transform="translate(332,803.2) scale(0.9,1)" font-size="14.6" font-weight="bold" fill="#000">J</text>
<path d="M442.9,813.1H456.9" stroke="#4e5ca4" stroke-width="1.8"/>
<text class="lg0" x="463.2" y="815.7" font-size="8.6" fill="#1c1c1c" textLength="83.6" lengthAdjust="spacingAndGlyphs">Non-Sarcopenic obesity</text>
<path d="M442.9,827.3H456.9" stroke="#a65a50" stroke-width="1.8"/>
<text class="lg1" x="463.2" y="829.9" font-size="8.6" fill="#1c1c1c" textLength="66.6" lengthAdjust="spacingAndGlyphs">Sarcopenic obesity</text>
<text class="lr" transform="translate(465,843.6) scale(0.9,1)" font-size="8.6" fill="#383838">Log-rank</text>
<text class="pv" transform="translate(465,854.2) scale(0.9,1)" font-size="8.6" fill="#383838"><tspan font-style="italic">p</tspan>=0.378</text>
<path d="M347.27,819.45H348.36V823.09H349.45V826.73H352.18H352.64V831.73H353.09V836.73H353.55V841.73H354V846.73H355.82V851.27H362.18H363.09V855.82H364.91V860.36H372.18H373.09V865.82H376.73V866.73H377.64V871.27H379.45V876.73H380.36V879.91H381.27V883.09H383.09V884V890.36H406.73V898.55H408.55V899.45H409V904.18H409.45V908.91H451.8" fill="none" stroke="#a65a50" stroke-width="1.75" stroke-linejoin="miter" stroke-linecap="butt"/>
<path d="M347.27,819.45H349.45V823.09H352.18V827.64H354V832.18H356.73V834.91H359.45V839.45H362.18V841.27H364V845.82H365.82V849.45H367.64V853.09H370.36V855.82H372.18V858.55H374.91V861.27H377.64V863.09H379.45V865.82H382.18V867.64H384.91V870.36H387.64V872.18H390.36V874.91H393.09V877.64H397.64V880.36H400.36V883.09H404V884H408.55V885.82H412.18V887.64H415.82V889.45H422.18V890.36H428.55V891.27H431.27V893.64H442.7H448.6V897.72H454.5V901.8H472.7V903.6H526" fill="none" stroke="#4e5ca4" stroke-width="1.75" stroke-linejoin="miter" stroke-linecap="butt"/>
</svg></body></html>
